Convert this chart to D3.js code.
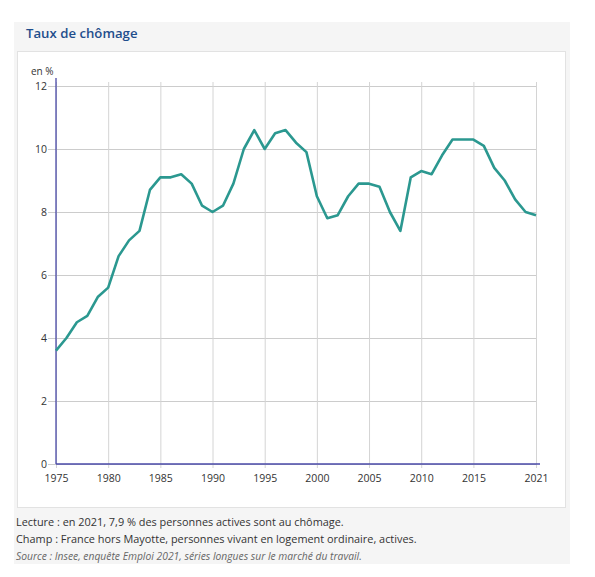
<!DOCTYPE html>
<html><head><meta charset="utf-8">
<script src="https://cdn.jsdelivr.net/npm/d3@7"></script>
<style>
html,body{margin:0;padding:0;background:#fff;}
svg{display:block;font-family:"Open Sans",sans-serif;}
</style></head>
<body>
<svg id="c" width="595" height="577"></svg>
<script>
const years = d3.range(1975, 2022);
const rates = [3.6,4.0,4.5,4.7,5.3,5.6,6.6,7.1,7.4,8.7,
               9.1,9.1,9.2,8.9,8.2,8.0,8.2,8.9,10.0,10.6,
               10.0,10.5,10.6,10.2,9.9,8.5,7.8,7.9,8.5,8.9,
               8.9,8.8,8.0,7.4,9.1,9.3,9.2,9.8,10.3,10.3,
               10.3,10.1,9.4,9.0,8.4,8.0,7.9];
const xTicks = [1975,1980,1985,1990,1995,2000,2005,2010,2015,2021];
const yTicks = [0,2,4,6,8,10,12];
const title = "Taux de chômage";
const unitLabel = "en %";
const notes = [
  "Lecture : en 2021, 7,9 % des personnes actives sont au chômage.",
  "Champ : France hors Mayotte, personnes vivant en logement ordinaire, actives."
];
const source = "Source : Insee, enquête Emploi 2021, séries longues sur le marché du travail.";

const svg = d3.select("#c");
svg.append("rect").attr("x",14).attr("y",22).attr("width",556).attr("height",542).attr("fill","#f5f5f5");
svg.append("rect").attr("x",17.5).attr("y",51.5).attr("width",548).attr("height",456)
  .attr("fill","#fff").attr("stroke","#e2e2e2");

svg.append("text").attr("x",26).attr("y",38).attr("fill","#1f4e8c")
  .attr("font-size",13.2).attr("font-weight",600).text(title);

const x = d3.scaleLinear().domain([1975,2021]).range([56,536]);
const y = d3.scaleLinear().domain([0,12]).range([464,86]);

const gy = svg.append("g").attr("transform","translate(56,0)")
  .call(d3.axisLeft(y).tickValues(yTicks).tickSize(-480).tickPadding(9).tickFormat(d3.format("d")));
gy.select(".domain").remove();
gy.selectAll(".tick line").attr("stroke","#cccccc").attr("x1",-8);
gy.selectAll(".tick text").attr("fill","#333").attr("font-size",10.5).attr("font-family","Open Sans");

const gx = svg.append("g").attr("transform","translate(0,464)")
  .call(d3.axisBottom(x).tickValues(xTicks).tickSize(4).tickPadding(7).tickFormat(d3.format("d")));
gx.select(".domain").remove();
gx.selectAll(".tick line").attr("stroke","#d4d4d4").attr("y1",-382).attr("y2",4);
gx.selectAll(".tick text").attr("fill","#333").attr("font-size",10.5).attr("font-family","Open Sans");

svg.append("line").attr("x1",56).attr("x2",56).attr("y1",78).attr("y2",464)
  .attr("stroke","#4a4aa8").attr("stroke-width",1.3);
svg.append("line").attr("x1",56).attr("x2",540).attr("y1",464).attr("y2",464)
  .attr("stroke","#4a4aa8").attr("stroke-width",1.3);

svg.append("text").attr("x",31).attr("y",75).attr("fill","#333").attr("font-size",10).text(unitLabel);

const line = d3.line().x((d,i)=>x(years[i])).y(d=>y(d));
svg.append("path").datum(rates).attr("d",line).attr("fill","none")
  .attr("stroke","#2b9890").attr("stroke-width",2.6).attr("stroke-linejoin","round");

notes.forEach((t,i)=>{
  svg.append("text").attr("x",16).attr("y",525.5+i*17.5).attr("fill","#333")
    .attr("font-size",10.9).text(t);
});
svg.append("text").attr("x",16).attr("y",560).attr("fill","#666")
  .attr("font-size",10.3).attr("font-style","italic").text(source);
</script>
</body></html>
